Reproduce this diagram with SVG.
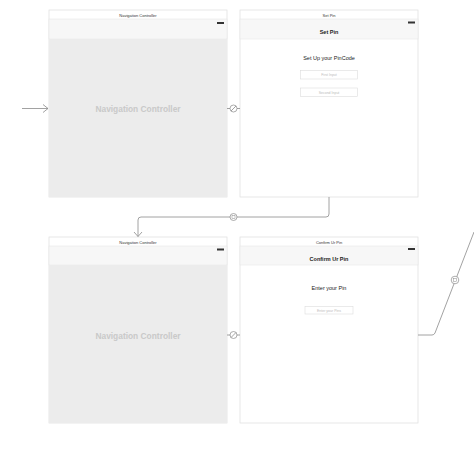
<svg xmlns="http://www.w3.org/2000/svg" width="474" height="460" viewBox="0 0 474 460">
<style>
.frame{fill:#fff;stroke:#e2e2e2;stroke-width:0.8}
.navbar{fill:#f7f7f7;stroke:#e4e4e4;stroke-width:0.5}
.body{fill:#ececec}
.ttl{font-family:"Liberation Sans",Arial,sans-serif;font-size:4px;fill:#333;text-anchor:middle}
.nbt{font-family:"Liberation Sans",Arial,sans-serif;font-size:5.5px;font-weight:bold;fill:#222;text-anchor:middle}
.wm{font-family:"Liberation Sans",Arial,sans-serif;font-size:8.4px;font-weight:bold;fill:#c9c9c9;text-anchor:middle}
.lbl{font-family:"Liberation Sans",Arial,sans-serif;font-size:5.5px;fill:#222;text-anchor:middle}
.fld{fill:#fff;stroke:#dcdcdc;stroke-width:0.6}
.ph{font-family:"Liberation Sans",Arial,sans-serif;font-size:3.5px;fill:#bbb;text-anchor:middle}
.bat{fill:#333}
.ln{fill:none;stroke:#8a8a8a;stroke-width:0.8}
.ic{fill:#fff;stroke:#8a8a8a;stroke-width:0.7}
</style>
<rect width="474" height="460" fill="#fff"/>
<g id="nav1">
<rect class="frame" x="49" y="10" width="178" height="187"/>
<rect class="navbar" x="49" y="19" width="178" height="20"/>
<rect class="body" x="49" y="39" width="178" height="158"/>
<rect class="bat" x="217" y="22" width="7" height="2"/>
<text class="ttl" x="138" y="16.5">Navigation Controller</text>
<text class="wm" x="138" y="111.5">Navigation Controller</text>
</g>
<g id="setpin">
<rect class="frame" x="240" y="10" width="178" height="187"/>
<rect class="navbar" x="240" y="19" width="178" height="20"/>
<rect class="bat" x="408" y="21.5" width="7" height="2"/>
<text class="ttl" x="329" y="16.5">Set Pin</text>
<text class="nbt" x="329" y="33.5">Set Pin</text>
<text class="lbl" x="329" y="59.5">Set Up your PinCode</text>
<rect class="fld" x="300.5" y="70.5" width="57" height="8.5"/>
<text class="ph" x="329" y="76">First Input</text>
<rect class="fld" x="300.5" y="88" width="57" height="8.5"/>
<text class="ph" x="329" y="93.5">Second Input</text>
</g>
<g id="nav2">
<rect class="frame" x="49" y="237" width="178" height="186"/>
<rect class="navbar" x="49" y="246" width="178" height="19"/>
<rect class="body" x="49" y="265" width="178" height="158"/>
<rect class="bat" x="217" y="248.5" width="7" height="2"/>
<text class="ttl" x="138" y="243.5">Navigation Controller</text>
<text class="wm" x="138" y="338.5">Navigation Controller</text>
</g>
<g id="confirm">
<rect class="frame" x="240" y="237" width="178" height="186"/>
<rect class="navbar" x="240" y="246" width="178" height="19"/>
<rect class="bat" x="408" y="248" width="7" height="2"/>
<text class="ttl" x="329" y="243.5">Confirm Ur Pin</text>
<text class="nbt" x="329" y="261">Confirm Ur Pin</text>
<text class="lbl" x="329" y="290">Enter your Pin</text>
<rect class="fld" x="305" y="306.5" width="48" height="7.5"/>
<text class="ph" x="329" y="311.5">Enter your Pins</text>
</g>
<g id="connectors">
<path class="ln" d="M22 108.5H48 M43 104.5L48 108.5L43 112.5"/>
<path class="ln" d="M227 108.5H240"/>
<circle class="ic" cx="233.5" cy="108.5" r="3.5"/>
<path class="ln" d="M231 111L236 106"/>
<path class="ln" d="M227 335H240"/>
<circle class="ic" cx="233.5" cy="335" r="3.5"/>
<path class="ln" d="M231 337.5L236 332.5"/>
<path class="ln" d="M329 197V214Q329 217 326 217H141Q138 217 138 220V236.5 M134 232L138 236.5L142 232"/>
<circle class="ic" cx="233.5" cy="217" r="3.5"/>
<rect x="232" y="215.5" width="3" height="3" fill="none" stroke="#8a8a8a" stroke-width="0.5"/>
<path class="ln" d="M418 335H432Q434 335 435 333L474 232"/>
<circle class="ic" cx="455" cy="280" r="3.8"/>
<rect x="453.5" y="278.5" width="3" height="3" fill="none" stroke="#8a8a8a" stroke-width="0.5"/>
</g>
</svg>
